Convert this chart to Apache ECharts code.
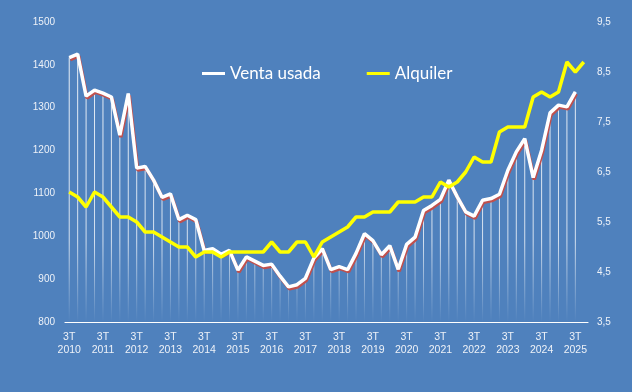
<!DOCTYPE html>
<html><head><meta charset="utf-8">
<script src="https://cdn.jsdelivr.net/npm/echarts@6/dist/echarts.min.js"></script>
<style>html,body{margin:0;padding:0;background:#4f81bd}#c{width:632px;height:392px}</style>
</head><body><div id="c"></div>
<script>
const quarters = [
  '3T 2010','4T 2010',
  '1T 2011','2T 2011','3T 2011','4T 2011',
  '1T 2012','2T 2012','3T 2012','4T 2012',
  '1T 2013','2T 2013','3T 2013','4T 2013',
  '1T 2014','2T 2014','3T 2014','4T 2014',
  '1T 2015','2T 2015','3T 2015','4T 2015',
  '1T 2016','2T 2016','3T 2016','4T 2016',
  '1T 2017','2T 2017','3T 2017','4T 2017',
  '1T 2018','2T 2018','3T 2018','4T 2018',
  '1T 2019','2T 2019','3T 2019','4T 2019',
  '1T 2020','2T 2020','3T 2020','4T 2020',
  '1T 2021','2T 2021','3T 2021','4T 2021',
  '1T 2022','2T 2022','3T 2022','4T 2022',
  '1T 2023','2T 2023','3T 2023','4T 2023',
  '1T 2024','2T 2024','3T 2024','4T 2024',
  '1T 2025','2T 2025','3T 2025','4T 2025'
];
const ventaUsada = [
  1417,1425,1327,1341,1334,1325,1236,1333,1159,1163,1131,1091,1099,1039,1049,1039,
  967,971,958,967,921,952,942,932,935,907,882,887,902,949,971,922,
  929,922,960,1006,990,957,978,923,981,998,1060,1072,1086,1131,1092,1057,
  1047,1084,1088,1098,1154,1197,1228,1137,1201,1288,1306,1302,1337
];
const alquiler = [
  6.1,6.0,5.8,6.1,6.0,5.8,5.6,5.6,5.5,5.3,5.3,5.2,5.1,5.0,5.0,4.8,
  4.9,4.9,4.8,4.9,4.9,4.9,4.9,4.9,5.1,4.9,4.9,5.1,5.1,4.8,5.1,5.2,
  5.3,5.4,5.6,5.6,5.7,5.7,5.7,5.9,5.9,5.9,6.0,6.0,6.3,6.2,6.3,6.5,
  6.8,6.7,6.7,7.3,7.4,7.4,7.4,8.0,8.1,8.0,8.1,8.7,8.5,8.7
];
const leftTicks = [800,900,1000,1100,1200,1300,1400,1500];
const rightTicks = [3.5,4.5,5.5,6.5,7.5,8.5,9.5];

const labelColor = '#eef2f8';
const chart = echarts.init(document.getElementById('c'), null, {renderer:'canvas'});
chart.setOption({
  backgroundColor: '#4f81bd',
  animation: false,
  grid: {left: 65, right: 44, top: 22, bottom: 70},
  legend: {
    data: [{name:'Venta usada'}, {name:'Alquiler'}],
    left: 197, top: 60,
    icon: 'rect', itemWidth: 23, itemHeight: 3, itemGap: 46,
    textStyle: {color:'#ffffff', fontSize: 17, fontFamily: 'Lato'}
  },
  xAxis: {
    type: 'category', data: quarters, boundaryGap: true,
    axisLine: {show: true, lineStyle: {color:'#ffffff', width: 1.2}},
    axisTick: {show: false},
    axisLabel: {
      interval: 3, color: labelColor, fontSize: 10.5, lineHeight: 12.5, margin: 9,
      fontFamily: 'Liberation Sans',
      formatter: v => v.replace(' ', '\n')
    },
    splitLine: {show: false}
  },
  yAxis: [
    {type:'value', min: 800, max: 1500, interval: 100,
     axisLine:{show:false}, axisTick:{show:false}, splitLine:{show:false},
     axisLabel:{color: labelColor, fontSize: 10, margin: 10, fontFamily:'Liberation Sans',
       customValues: leftTicks, formatter: v => String(Math.round(v))}},
    {type:'value', min: 3.5, max: 9.5, interval: 1, position: 'right',
     axisLine:{show:false}, axisTick:{show:false}, splitLine:{show:false},
     axisLabel:{color: labelColor, fontSize: 10, margin: 9, fontFamily:'Liberation Sans',
       customValues: rightTicks,
       formatter: v => v.toFixed(1).replace('.', ',')}}
  ],
  series: [
    {
      name: 'drop', type: 'bar', data: ventaUsada, yAxisIndex: 0, barWidth: 1,
      z: 1, silent: true,
      itemStyle: {color: new echarts.graphic.LinearGradient(0, 0, 0, 322, [
        {offset: 0, color: 'rgba(255,255,255,0.9)'},
        {offset: 0.75, color: 'rgba(255,255,255,0.75)'},
        {offset: 1, color: 'rgba(255,255,255,0)'}
      ], true)}
    },
    {
      name: 'Venta usada', type: 'line', data: ventaUsada, yAxisIndex: 0,
      showSymbol: false, symbol: 'none', z: 3,
      itemStyle: {color: '#ffffff'},
      lineStyle: {color: '#ffffff', width: 3.5, shadowColor: '#c0504d',
        shadowOffsetX: 1, shadowOffsetY: 2, shadowBlur: 0}
    },
    {
      name: 'Alquiler', type: 'line', data: alquiler, yAxisIndex: 1,
      showSymbol: false, symbol: 'none', z: 4,
      itemStyle: {color: '#ffff00'},
      lineStyle: {color: '#ffff00', width: 3.5}
    }
  ]
});
</script>
</body></html>
